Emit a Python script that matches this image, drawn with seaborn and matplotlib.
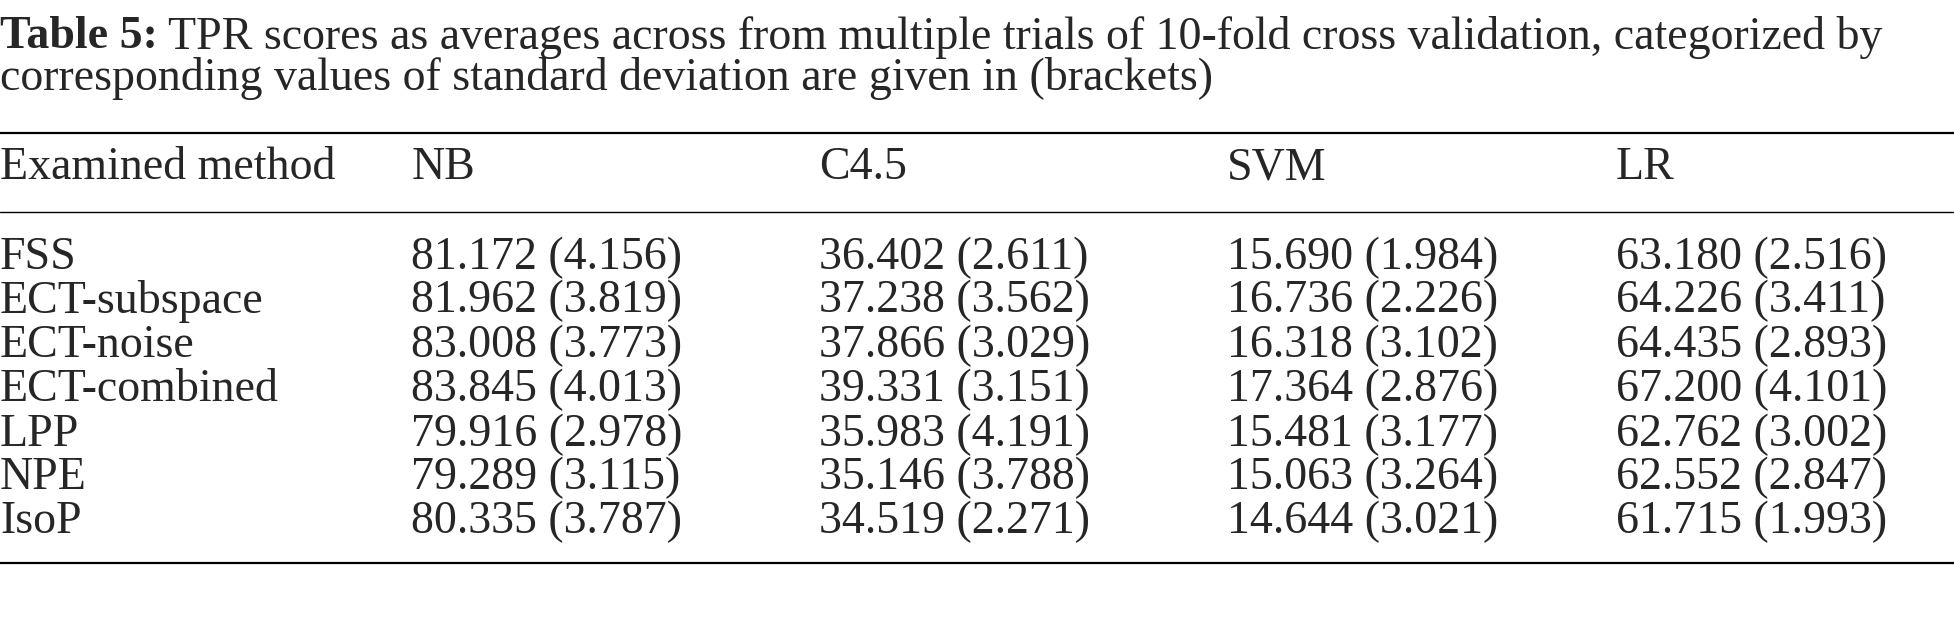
import matplotlib
matplotlib.use("Agg")
import matplotlib.pyplot as plt
import seaborn as sns

sns.set_theme(style="white")
plt.rcParams["font.family"] = ["Liberation Serif", "DejaVu Serif"]

# table content
columns = ["Examined method", "NB", "C4.5", "SVM", "LR"]
methods = ["FSS", "ECT-subspace", "ECT-noise", "ECT-combined", "LPP", "NPE", "IsoP"]
nb_mean = [81.172, 81.962, 83.008, 83.845, 79.916, 79.289, 80.335]
nb_std = [4.156, 3.819, 3.773, 4.013, 2.978, 3.115, 3.787]
c45_mean = [36.402, 37.238, 37.866, 39.331, 35.983, 35.146, 34.519]
c45_std = [2.611, 3.562, 3.029, 3.151, 4.191, 3.788, 2.271]
svm_mean = [15.690, 16.736, 16.318, 17.364, 15.481, 15.063, 14.644]
svm_std = [1.984, 2.226, 3.102, 2.876, 3.177, 3.264, 3.021]
lr_mean = [63.180, 64.226, 64.435, 67.200, 62.762, 62.552, 61.715]
lr_std = [2.516, 3.411, 2.893, 4.101, 3.002, 2.847, 1.993]

fig = plt.figure(figsize=(19.54, 6.25), dpi=100)
fs = 33

H = 502.0
def fy(y):
    return 1 - y / H

bold = fig.text(0.0, fy(30), "Table 5:", fontsize=fs, fontweight="bold", va="center", ha="left")
fig.canvas.draw()
bb = bold.get_window_extent().transformed(fig.transFigure.inverted())
fig.text(bb.x1 + 0.005, fy(30),
         "TPR scores as averages across from multiple trials of 10-fold cross validation, categorized by",
         fontsize=fs, va="center", ha="left")
fig.text(0.0, fy(63), "corresponding values of standard deviation are given in (brackets)",
         fontsize=fs, va="center", ha="left")

for y, lw in [(107, 1.6), (170, 1.0), (452, 1.6)]:
    fig.add_artist(plt.Line2D([0, 1], [fy(y), fy(y)], color="black", lw=lw))

col_x = [0.0, 0.2105, 0.419, 0.628, 0.827]
for x, c in zip(col_x, columns):
    fig.text(x, fy(135), c, fontsize=fs, va="center", ha="left")

row_y = [207, 242, 278, 313, 349, 384, 419]
series = [(nb_mean, nb_std), (c45_mean, c45_std), (svm_mean, svm_std), (lr_mean, lr_std)]
for i, (m, y) in enumerate(zip(methods, row_y)):
    fig.text(col_x[0], fy(y), m, fontsize=fs, va="center", ha="left")
    for j, (mean, std) in enumerate(series):
        fig.text(col_x[j + 1], fy(y), f"{mean[i]:.3f} ({std[i]:.3f})",
                 fontsize=fs, va="center", ha="left")

fig.savefig("out.png", dpi=100)
